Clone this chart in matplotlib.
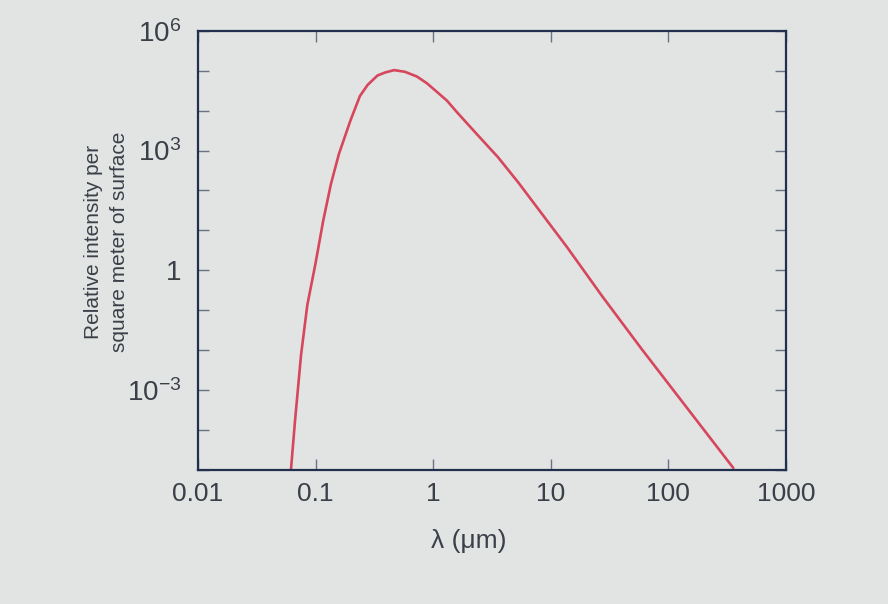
import math
import matplotlib
matplotlib.use("Agg")
import matplotlib.pyplot as plt
from matplotlib.ticker import FixedLocator, FuncFormatter, NullLocator

# Data (wavelength in micrometres, relative intensity)
wavelength_um = [0.0617, 0.0667, 0.0752, 0.0851, 0.0994, 0.116, 0.135, 0.158,
                 0.198, 0.238, 0.277, 0.336, 0.392, 0.466, 0.575, 0.727,
                 0.884, 1.076, 1.31, 1.60, 2.38, 3.56, 5.32, 13.8,
                 27.5, 59.0, 357.0]
intensity = [1.0e-5, 1.59e-4, 7.59e-3, 0.137, 1.39, 17.3, 145.0, 828.0,
             5690.0, 23100.0, 44100.0, 75900.0, 90700.0, 103500.0, 94000.0,
             71600.0, 48600.0, 29500.0, 17800.0, 9020.0, 2480.0, 681.0,
             156.0, 3.76, 0.221, 0.0109, 1.12e-5]

x_ticks = [0.01, 0.1, 1, 10, 100, 1000]
x_tick_labels = ["0.01", "0.1", "1", "10", "100", "1000"]
y_ticks = [10.0 ** k for k in range(-5, 7)]
y_tick_labels = {6: r"$10^{6}$", 3: r"$10^{3}$", 0: "1", -3: r"$10^{-3}$"}

plt.rcParams["font.family"] = ["Liberation Sans", "DejaVu Sans"]
plt.rcParams["mathtext.fontset"] = "custom"
plt.rcParams["mathtext.rm"] = "Liberation Sans"
plt.rcParams["mathtext.it"] = "Liberation Sans:italic"
plt.rcParams["mathtext.default"] = "regular"

bg = "#e1e4e3"
frame = "#22304d"
text_col = "#3b4048"

fig = plt.figure(figsize=(8.88, 6.04), dpi=100, facecolor=bg)
ax = fig.add_axes([0.223, 0.222, 0.662, 0.727], facecolor=bg)

ax.plot(wavelength_um, intensity, color="#d6465c", lw=1.9,
        solid_capstyle="round", solid_joinstyle="round")

ax.set_xscale("log")
ax.set_yscale("log")
ax.set_xlim(0.01, 1000)
ax.set_ylim(1e-5, 1e6)

ax.xaxis.set_major_locator(FixedLocator(x_ticks))
ax.set_xticklabels(x_tick_labels)
ax.xaxis.set_minor_locator(NullLocator())
ax.yaxis.set_major_locator(FixedLocator(y_ticks))
ax.yaxis.set_minor_locator(NullLocator())


def yfmt(v, pos):
    k = int(round(math.log10(v)))
    return y_tick_labels.get(k, "")


ax.yaxis.set_major_formatter(FuncFormatter(yfmt))

ax.tick_params(axis="both", which="major", direction="in", length=8, width=1.0,
               color="#6a7383", top=True, right=True, labelcolor=text_col)
ax.tick_params(axis="x", labelsize=19, pad=9)
ax.tick_params(axis="y", labelsize=20, pad=12)

for s in ax.spines.values():
    s.set_color(frame)
    s.set_linewidth(1.6)

ax.set_xlabel("λ (μm)", fontsize=19, color=text_col)
ax.xaxis.set_label_coords(0.46, -0.135)
ax.set_ylabel("Relative intensity per\nsquare meter of surface", fontsize=15,
              color=text_col, linespacing=1.45)
ax.yaxis.set_label_coords(-0.118, 0.52)

fig.savefig("out.png", dpi=100, facecolor=bg)
